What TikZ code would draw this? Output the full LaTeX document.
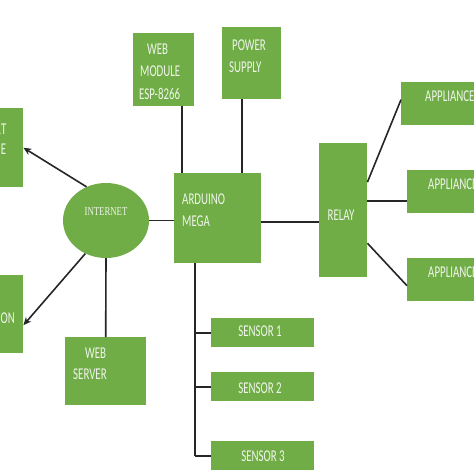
\documentclass[tikz,border=0pt]{standalone}
\usepackage{graphicx}
\usepackage{fontspec}
\setmainfont{Carlito}
\newfontfamily\serifint{Liberation Serif}
\usetikzlibrary{arrows.meta,shapes.geometric}
\definecolor{boxgreen}{RGB}{112,173,71}
\definecolor{txtwhite}{RGB}{240,245,235}
\newcommand{\lbl}[1]{\scalebox{0.66}[1]{\fontsize{16.5}{17}\selectfont #1}}
\tikzset{
  gbox/.style={fill=boxgreen, draw=none, inner sep=0pt, anchor=north west},
  txt/.style={text=txtwhite, inner sep=0pt, anchor=west},
  txtc/.style={text=txtwhite, inner sep=0pt, anchor=center},
  txte/.style={text=txtwhite, inner sep=0pt, anchor=east},
  conn/.style={draw=black!85, line width=1.6pt},
  arr/.style={conn, -{Stealth[length=8pt,width=7pt]}}
}
\begin{document}
\begin{tikzpicture}[x=1pt,y=-1pt]
\useasboundingbox (0,0) rectangle (474,474);
\fill[white] (0,0) rectangle (474,474);
% boxes
\node[gbox, minimum width=28pt, minimum height=79pt] (lt) at (-5,108) {};
\node[gbox, minimum width=28pt, minimum height=78pt] (lb) at (-5,275) {};
\node[ellipse, fill=boxgreen, minimum width=86pt, minimum height=75pt, inner sep=0pt] (inet) at (106,220.5) {};
\node[gbox, minimum width=81pt, minimum height=68pt] (ws) at (65,337) {};
\node[gbox, minimum width=61pt, minimum height=73pt] (wm) at (133,33) {};
\node[gbox, minimum width=59pt, minimum height=72pt] (pw) at (222,27) {};
\node[gbox, minimum width=87pt, minimum height=90pt] (ard) at (174,173) {};
\node[gbox, minimum width=48pt, minimum height=134pt] (relay) at (319,143) {};
\node[gbox, minimum width=80pt, minimum height=43pt] (app1) at (401,82) {};
\node[gbox, minimum width=74pt, minimum height=43pt] (app2) at (407,170) {};
\node[gbox, minimum width=74pt, minimum height=43pt] (app3) at (407,258) {};
\node[gbox, minimum width=103pt, minimum height=29pt] (s1) at (211,318) {};
\node[gbox, minimum width=103pt, minimum height=29pt] (s2) at (211,372) {};
\node[gbox, minimum width=103pt, minimum height=29pt] (s3) at (211,441) {};
% texts
\node[txte] (tlt1) at (6.5,129) {\lbl{SMART}};
\node[txte] (tlt2) at (6.5,149) {\lbl{PHONE}};
\node[txte] (tlb1) at (15,318) {\lbl{APPLICATION}};
\node[txtc] (tinet) at (106,212) {\scalebox{0.73}[1]{\fontsize{12}{13}\serifint INTERNET}};
\node[txt] (tws1) at (85,353) {\lbl{WEB}};
\node[txt] (tws2) at (73,374) {\lbl{SERVER}};
\node[txt] (twm1) at (147,49) {\lbl{WEB}};
\node[txt] (twm2) at (140,71) {\lbl{MODULE}};
\node[txt] (twm3) at (139,94) {\lbl{ESP-8266}};
\node[txt] (tpw1) at (232,45) {\lbl{POWER}};
\node[txt] (tpw2) at (229,67) {\lbl{SUPPLY}};
\node[txt] (tard1) at (182,199) {\lbl{ARDUINO}};
\node[txt] (tard2) at (182,221) {\lbl{MEGA}};
\node[txtc] (trel) at (341,215) {\lbl{RELAY}};
\node[txt] (ta1) at (425,96) {\lbl{APPLIANCE 1}};
\node[txt] (ta2) at (428,184) {\lbl{APPLIANCE 2}};
\node[txt] (ta3) at (428,272) {\lbl{APPLIANCE 3}};
\node[txtc] (ts1) at (260,331) {\lbl{SENSOR 1}};
\node[txtc] (ts2) at (260,388) {\lbl{SENSOR 2}};
\node[txtc] (ts3) at (263,456) {\lbl{SENSOR 3}};
% connectors
\draw[arr] (inet.120) -- (lt.east);
\draw[arr] (inet.238) -- ([yshift=-11pt]lb.east);
\draw[conn] (inet.south) -- (ws.north);
\draw[conn] (inet.east) -- (ard.west |- inet.east);
\draw[conn] ([xshift=18pt]wm.south) -- ([xshift=18pt]wm.south |- ard.north);
\draw[conn] ([xshift=-10pt]pw.south) -- ([xshift=-10pt]pw.south |- ard.north);
\draw[conn] ([yshift=-4pt]ard.east) -- ([yshift=-4pt]relay.west |- ard.east);
\draw[conn] ([yshift=28pt]relay.east) -- ([yshift=4pt]app1.west);
\draw[conn] ([yshift=-9pt]app2.west -| relay.east) -- ([yshift=-9pt]app2.west);
\draw[conn] ([yshift=-33pt]relay.east) -- ([yshift=-6pt]app3.west);
\draw[conn] ([xshift=-22.5pt]ard.south) -- ([xshift=-22.5pt]ard.south |- s3.west);
\draw[conn] (s1.west -| ard.south) ++(-22.5,0) -- (s1.west);
\draw[conn] (s2.west -| ard.south) ++(-22.5,0) -- (s2.west);
\draw[conn] (s3.west -| ard.south) ++(-22.5,0) -- (s3.west);
\end{tikzpicture}
\end{document}
